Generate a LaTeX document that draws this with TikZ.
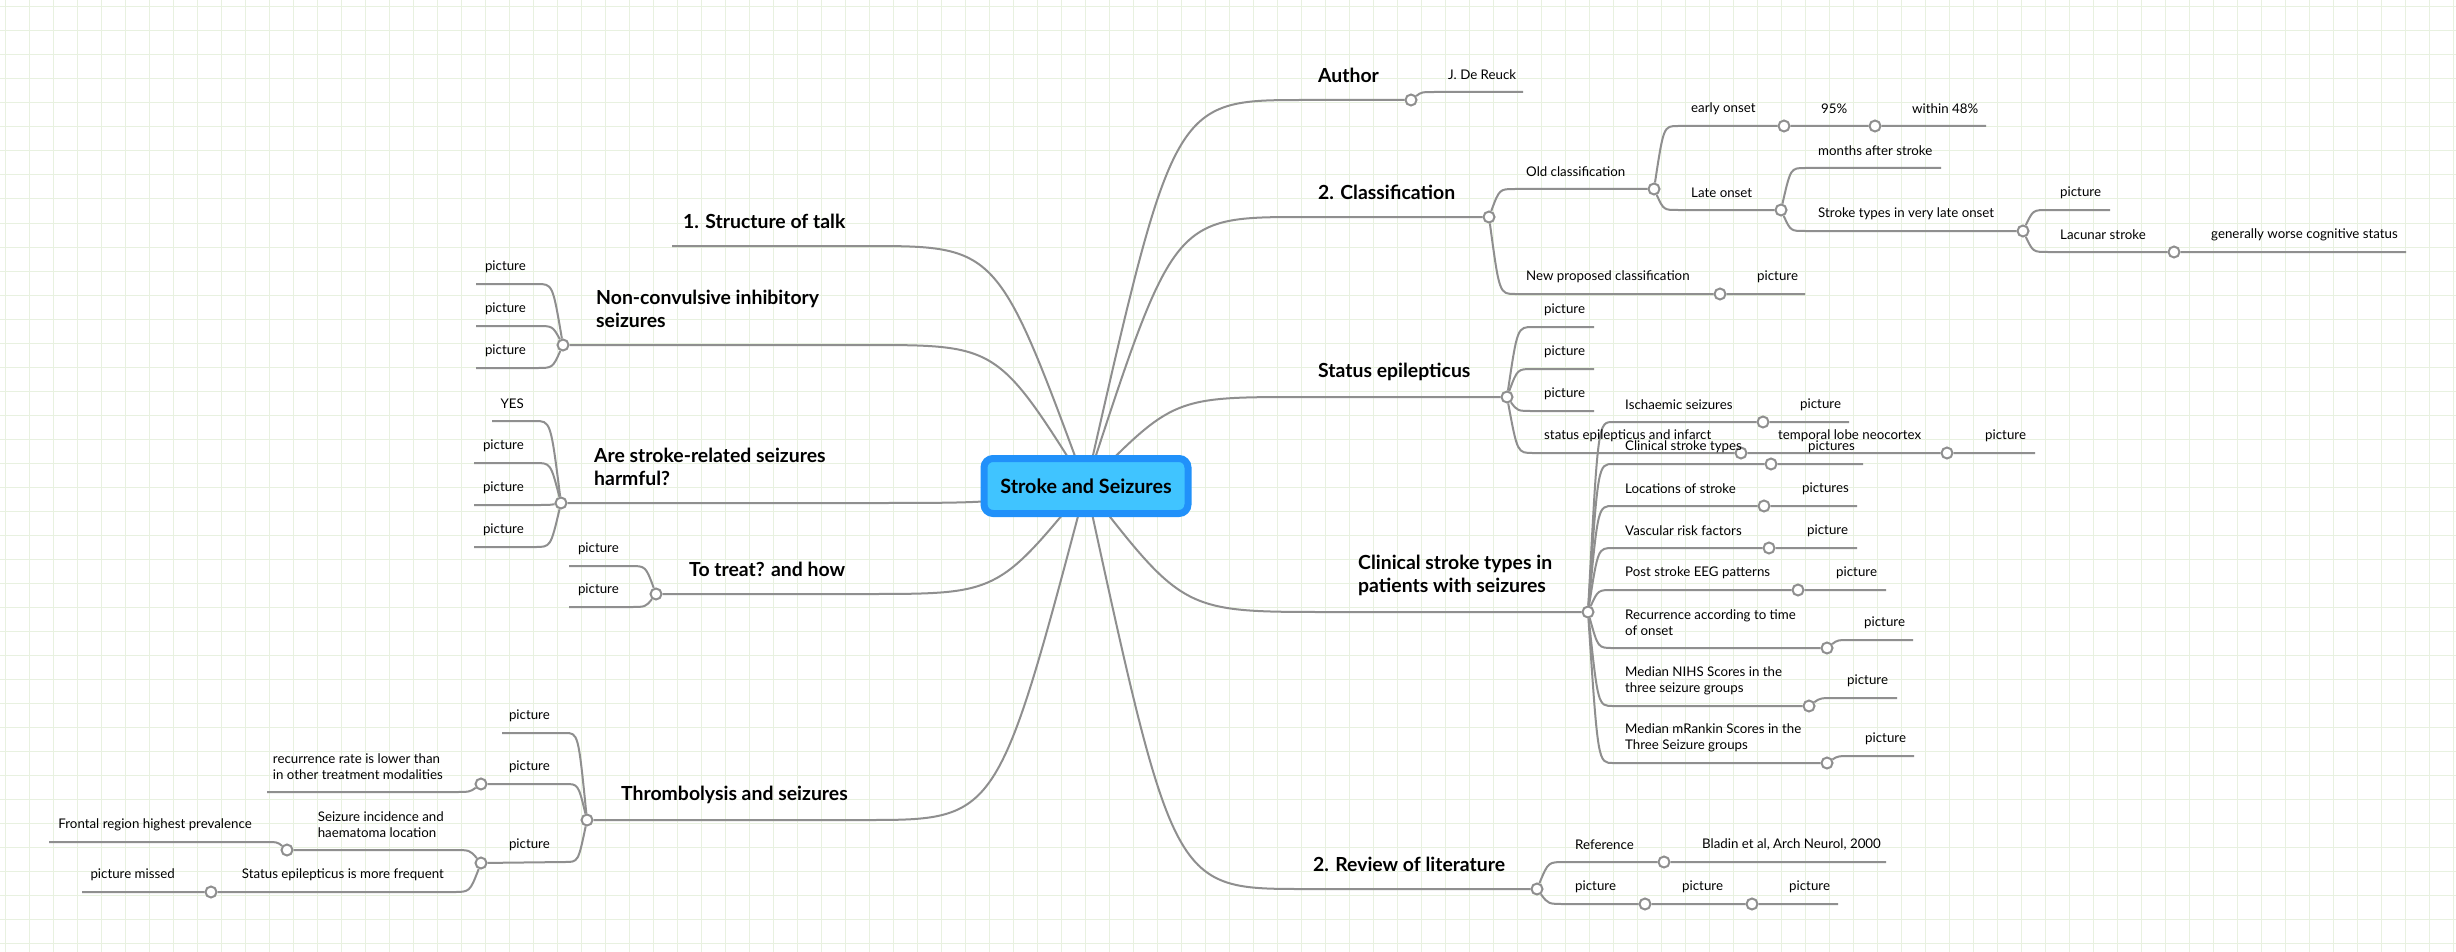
\documentclass[tikz,border=0pt]{standalone}
\usepackage{fontspec}
\setmainfont{Lato}
\usetikzlibrary{calc}
\pgfdeclarelayer{bg}
\pgfsetlayers{bg,main}
\definecolor{linegray}{RGB}{143,143,143}
\definecolor{gridgreen}{RGB}{232,241,224}
\definecolor{rootblue}{RGB}{33,145,250}
\definecolor{rootfill}{RGB}{64,196,255}
\tikzstyle{every picture}=[x=1pt,y=-1pt]
\tikzstyle{gridline}=[draw=gridgreen,line width=1pt]
\tikzstyle{link}=[draw=linegray,line width=2pt]
\tikzstyle{knob}=[circle,draw=linegray,fill=white,line width=2pt,inner sep=0pt,minimum size=11pt]
\tikzstyle{lbl}=[inner sep=0pt,font=\fontsize{13.3}{16}\selectfont,align=left]
\tikzstyle{topic}=[inner sep=0pt,font=\fontsize{19.4}{23}\selectfont\bfseries,align=left]
\tikzstyle{centerbox}=[rounded corners=9pt,draw=rootblue,fill=rootfill,line width=7pt,
  minimum width=204pt,minimum height=55pt,font=\fontsize{19.7}{22}\selectfont\bfseries]
\tikzstyle{curvy}=[to path={let \p1=(\tikztostart), \p2=(\tikztotarget) in
  .. controls ({\x1+0.4*(\x2-\x1)},\y2) .. (\tikztotarget)}]

\begin{document}
\begin{tikzpicture}
\useasboundingbox (0,0) rectangle (2456,952);
\coordinate (c0) at (1086,486);

% right side: Author and Classification
\node[topic,anchor=west] (au-t) at (1318,75) {Author};
\coordinate (au-e) at (1305,100);
\node[knob] (au) at (1411,100) {};
\coordinate (jdr-s) at (1437,92); \coordinate (jdr-e) at (1523,92);
\node[lbl,anchor=west] (jdr-t) at (1448,74.5) {J. De Reuck};

\node[topic,anchor=west] (cls-t) at (1318,192) {2. Classification};
\coordinate (cls-e) at (1305,217);
\node[knob] (cls) at (1489,217) {};
\coordinate (old-s) at (1515,189);
\node[knob] (old) at (1654,189) {};
\node[lbl,anchor=west] (old-t) at (1526,171.5) {Old classification};
\coordinate (ear-s) at (1678,126);
\node[knob] (ear) at (1784,126) {};
\node[lbl,anchor=west] (ear-t) at (1691,108.5) {early onset};
\node[knob] (p95) at (1875,126) {};
\node[lbl,anchor=west] (p95-t) at (1821,108.5) {95\%};
\coordinate (w48-e) at (1986,126);
\node[lbl,anchor=west] (w48-t) at (1912,108.5) {within 48\%};
\coordinate (lat-s) at (1678,210);
\node[knob] (lat) at (1781,210) {};
\node[lbl,anchor=west] (lat-t) at (1691,192.5) {Late onset};
\coordinate (mas-s) at (1805,168); \coordinate (mas-e) at (1941,168);
\node[lbl,anchor=west] (mas-t) at (1818,150.5) {months after stroke};
\coordinate (vlo-s) at (1805,231);
\node[knob] (vlo) at (2023,231) {};
\node[lbl,anchor=west] (vlo-t) at (1818,213.5) {Stroke types in very late onset};
\coordinate (vpc-s) at (2048,210); \coordinate (vpc-e) at (2110,210);
\node[lbl,anchor=west] (vpc-t) at (2060,192.5) {picture};
\coordinate (lac-s) at (2048,252);
\node[knob] (lac) at (2174,252) {};
\node[lbl,anchor=west] (lac-t) at (2060,234.5) {Lacunar stroke};
\coordinate (gwc-e) at (2406,252);
\node[lbl,anchor=west] (gwc-t) at (2211,234.5) {generally worse cognitive status};
\coordinate (new-s) at (1515,294);
\node[knob] (new) at (1720,294) {};
\node[lbl,anchor=west] (new-t) at (1526,276.5) {New proposed classification};
\coordinate (npc-e) at (1805,294);
\node[lbl,anchor=west] (npc-t) at (1757,276.5) {picture};

% Status epilepticus
\node[topic,anchor=west] (ste-t) at (1318,372) {Status epilepticus};
\coordinate (ste-e) at (1305,397);
\node[knob] (ste) at (1507,397) {};
\coordinate (sp1-s) at (1533,327); \coordinate (sp1-e) at (1594,327);
\coordinate (sp2-s) at (1533,369); \coordinate (sp2-e) at (1594,369);
\coordinate (sp3-s) at (1533,411); \coordinate (sp3-e) at (1594,411);
\node[lbl,anchor=west] (sp1-t) at (1544,309.5) {picture};
\node[lbl,anchor=west] (sp2-t) at (1544,351.5) {picture};
\node[lbl,anchor=west] (sp3-t) at (1544,393.5) {picture};
\coordinate (sei-s) at (1533,453);
\node[knob] (sei) at (1741,453) {};
\node[lbl,anchor=west] (sei-t) at (1544,435.5) {status epilepticus and infarct};
\node[knob] (tln) at (1947,453) {};
\node[lbl,anchor=west] (tln-t) at (1778,435.5) {temporal lobe neocortex};
\coordinate (tlp-e) at (2035,453);
\node[lbl,anchor=west] (tlp-t) at (1985,435.5) {picture};

% Clinical stroke types
\node[topic,anchor=west] (cst-t) at (1358,575.5) {Clinical stroke types in\\patients with seizures};
\coordinate (cst-e) at (1330,612);
\node[knob] (cst) at (1588,612) {};
\coordinate (c1-s) at (1613,422); \node[knob] (c1) at (1763,422) {};
\coordinate (c2-s) at (1613,464); \node[knob] (c2) at (1771,464) {};
\coordinate (c3-s) at (1613,506); \node[knob] (c3) at (1764,506) {};
\coordinate (c4-s) at (1613,548); \node[knob] (c4) at (1769,548) {};
\coordinate (c5-s) at (1613,590); \node[knob] (c5) at (1798,590) {};
\coordinate (c6-s) at (1613,648); \node[knob] (c6) at (1827,648) {};
\coordinate (c7-s) at (1613,706); \node[knob] (c7) at (1809,706) {};
\coordinate (c8-s) at (1613,763); \node[knob] (c8) at (1827,763) {};
\node[lbl,anchor=west] (c1-t) at (1625,404.5) {Ischaemic seizures};
\node[lbl,anchor=west] (c2-t) at (1625,446.5) {Clinical stroke types};
\node[lbl,anchor=west] (c3-t) at (1625,488.5) {Locations of stroke};
\node[lbl,anchor=west] (c4-t) at (1625,530.5) {Vascular risk factors};
\node[lbl,anchor=west] (c5-t) at (1625,572.5) {Post stroke EEG patterns};
\node[lbl,anchor=west] (c6-t) at (1625,622.5) {Recurrence according to time\\of onset};
\node[lbl,anchor=west] (c7-t) at (1625,680.5) {Median NIHS Scores in the\\three seizure groups};
\node[lbl,anchor=west] (c8-t) at (1625,737.5) {Median mRankin Scores in the\\Three Seizure groups};
\coordinate (c1p-e) at (1849,422); \node[lbl,anchor=west] (c1p-t) at (1800,404.5) {picture};
\coordinate (c2p-e) at (1863,464); \node[lbl,anchor=west] (c2p-t) at (1808,446.5) {pictures};
\coordinate (c3p-e) at (1857,506); \node[lbl,anchor=west] (c3p-t) at (1802,488.5) {pictures};
\coordinate (c4p-e) at (1857,548); \node[lbl,anchor=west] (c4p-t) at (1807,530.5) {picture};
\coordinate (c5p-e) at (1886,590); \node[lbl,anchor=west] (c5p-t) at (1836,572.5) {picture};
\coordinate (c6p-s) at (1853,640); \coordinate (c6p-e) at (1913,640);
\node[lbl,anchor=west] (c6p-t) at (1864,622.5) {picture};
\coordinate (c7p-s) at (1837,698); \coordinate (c7p-e) at (1897,698);
\node[lbl,anchor=west] (c7p-t) at (1847,680.5) {picture};
\coordinate (c8p-s) at (1854,756); \coordinate (c8p-e) at (1914,756);
\node[lbl,anchor=west] (c8p-t) at (1865,738.5) {picture};

% Review of literature
\node[topic,anchor=west] (rev-t) at (1313,864) {2. Review of literature};
\coordinate (rev-e) at (1305,889);
\node[knob] (rev) at (1537,889) {};
\coordinate (ref-s) at (1565,862);
\node[knob] (ref) at (1664,862) {};
\node[lbl,anchor=west] (ref-t) at (1575,844.5) {Reference};
\coordinate (bla-e) at (1886,862);
\node[lbl,anchor=west] (bla-t) at (1702,844.5) {Bladin et al, Arch Neurol, 2000};
\coordinate (rp1-s) at (1565,904);
\node[knob] (rp1) at (1645,904) {};
\node[knob] (rp2) at (1752,904) {};
\coordinate (rp3-e) at (1838,904);
\node[lbl,anchor=west] (rp1-t) at (1575,886.5) {picture};
\node[lbl,anchor=west] (rp2-t) at (1682,886.5) {picture};
\node[lbl,anchor=west] (rp3-t) at (1789,886.5) {picture};

% left side
\node[topic,anchor=west] (sot-t) at (683,221) {1. Structure of talk};
\coordinate (sot-e) at (865,246); \coordinate (sot-l) at (672,246);

\node[topic,anchor=west] (ncs-t) at (596,308.5) {Non-convulsive inhibitory\\seizures};
\coordinate (ncs-e) at (865,345);
\node[knob] (ncs) at (563,345) {};
\coordinate (np1-s) at (537,284); \coordinate (np1-e) at (476,284);
\coordinate (np2-s) at (537,326); \coordinate (np2-e) at (476,326);
\coordinate (np3-s) at (537,368); \coordinate (np3-e) at (476,368);
\node[lbl,anchor=east] (np1-t) at (526,266.5) {picture};
\node[lbl,anchor=east] (np2-t) at (526,308.5) {picture};
\node[lbl,anchor=east] (np3-t) at (526,350.5) {picture};

\node[topic,anchor=west] (hrm-t) at (594,466.5) {Are stroke-related seizures\\harmful?};
\coordinate (hrm-e) at (865,503);
\node[knob] (hrm) at (561,503) {};
\coordinate (yes-s) at (535,421); \coordinate (yes-e) at (492,421);
\coordinate (hp1-s) at (535,463); \coordinate (hp1-e) at (474,463);
\coordinate (hp2-s) at (535,505); \coordinate (hp2-e) at (474,505);
\coordinate (hp3-s) at (535,547); \coordinate (hp3-e) at (474,547);
\node[lbl,anchor=east] (yes-t) at (524,403.5) {YES};
\node[lbl,anchor=east] (hp1-t) at (524,445.5) {picture};
\node[lbl,anchor=east] (hp2-t) at (524,487.5) {picture};
\node[lbl,anchor=east] (hp3-t) at (524,529.5) {picture};

\node[topic,anchor=west] (trt-t) at (689,569) {To treat? and how};
\coordinate (trt-e) at (865,594);
\node[knob] (trt) at (656,594) {};
\coordinate (tp1-s) at (630,566); \coordinate (tp1-e) at (569,566);
\coordinate (tp2-s) at (630,607); \coordinate (tp2-e) at (569,607);
\node[lbl,anchor=east] (tp1-t) at (619,548.5) {picture};
\node[lbl,anchor=east] (tp2-t) at (619,589.5) {picture};

\node[topic,anchor=west] (thr-t) at (621,795) {Thrombolysis and seizures};
\coordinate (thr-e) at (865,820);
\node[knob] (thr) at (587,820) {};
\coordinate (th1-s) at (565,733); \coordinate (th1-e) at (502,733);
\coordinate (th2-s) at (565,784); \node[knob] (th2) at (481,784) {};
\coordinate (th3-s) at (565,862); \node[knob] (th3) at (481,863) {};
\node[lbl,anchor=east] (th1-t) at (550,715.5) {picture};
\node[lbl,anchor=east] (th2-t) at (550,766.5) {picture};
\node[lbl,anchor=east] (th3-t) at (550,844.5) {picture};
\coordinate (rec-s) at (453,792); \coordinate (rec-e) at (267,792);
\node[lbl,anchor=east] (rec-t) at (443,766.5) {recurrence rate is lower than\\in other treatment modalities};
\coordinate (sia-s) at (453,850); \node[knob] (sia) at (287,850) {};
\node[lbl,anchor=east] (sia-t) at (444,824.5) {Seizure incidence and\\haematoma location};
\coordinate (frp-s) at (263,842); \coordinate (frp-e) at (49,842);
\node[lbl,anchor=east] (frp-t) at (252,824.5) {Frontal region highest prevalence};
\coordinate (sem-s) at (453,892); \node[knob] (sem) at (211,892) {};
\node[lbl,anchor=east] (sem-t) at (444,874.5) {Status epilepticus is more frequent};
\coordinate (pms-e) at (82,892);
\node[lbl,anchor=east] (pms-t) at (175,874.5) {picture missed};

\node[centerbox] (root) at (c0) {Stroke and Seizures};

% Now draw the grid and the edges underneath
\begin{pgfonlayer}{bg}
\fill[white] (0,0) rectangle (2456,952);
\foreach \gx in {5,29,...,2453} \draw[gridline] (\gx,0) -- (\gx,952);
\foreach \gy in {7,31,...,943} \draw[gridline] (0,\gy) -- (2456,\gy);

\draw[link] (c0) to[curvy] (au-e) -- (au);
\draw[link] (au) to[curvy] (jdr-s) -- (jdr-e);
\draw[link] (c0) to[curvy] (cls-e) -- (cls);
\draw[link] (cls) to[curvy] (old-s) -- (old);
\draw[link] (old) to[curvy] (ear-s) -- (ear) -- (p95) -- (w48-e);
\draw[link] (old) to[curvy] (lat-s) -- (lat);
\draw[link] (lat) to[curvy] (mas-s) -- (mas-e);
\draw[link] (lat) to[curvy] (vlo-s) -- (vlo);
\draw[link] (vlo) to[curvy] (vpc-s) -- (vpc-e);
\draw[link] (vlo) to[curvy] (lac-s) -- (lac) -- (gwc-e);
\draw[link] (cls) to[curvy] (new-s) -- (new) -- (npc-e);

\draw[link] (c0) to[curvy] (ste-e) -- (ste);
\draw[link] (ste) to[curvy] (sp1-s) -- (sp1-e);
\draw[link] (ste) to[curvy] (sp2-s) -- (sp2-e);
\draw[link] (ste) to[curvy] (sp3-s) -- (sp3-e);
\draw[link] (ste) to[curvy] (sei-s) -- (sei) -- (tln) -- (tlp-e);

\draw[link] (c0) to[curvy] (cst-e) -- (cst);
\draw[link] (cst) to[curvy] (c1-s) -- (c1) -- (c1p-e);
\draw[link] (cst) to[curvy] (c2-s) -- (c2) -- (c2p-e);
\draw[link] (cst) to[curvy] (c3-s) -- (c3) -- (c3p-e);
\draw[link] (cst) to[curvy] (c4-s) -- (c4) -- (c4p-e);
\draw[link] (cst) to[curvy] (c5-s) -- (c5) -- (c5p-e);
\draw[link] (cst) to[curvy] (c6-s) -- (c6);
\draw[link] (cst) to[curvy] (c7-s) -- (c7);
\draw[link] (cst) to[curvy] (c8-s) -- (c8);
\draw[link] (c6) to[curvy] (c6p-s) -- (c6p-e);
\draw[link] (c7) to[curvy] (c7p-s) -- (c7p-e);
\draw[link] (c8) to[curvy] (c8p-s) -- (c8p-e);

\draw[link] (c0) to[curvy] (rev-e) -- (rev);
\draw[link] (rev) to[curvy] (ref-s) -- (ref) -- (bla-e);
\draw[link] (rev) to[curvy] (rp1-s) -- (rp1) -- (rp2) -- (rp3-e);

\draw[link] (c0) to[curvy] (sot-e) -- (sot-l);
\draw[link] (c0) to[curvy] (ncs-e) -- (ncs);
\draw[link] (ncs) to[curvy] (np1-s) -- (np1-e);
\draw[link] (ncs) to[curvy] (np2-s) -- (np2-e);
\draw[link] (ncs) to[curvy] (np3-s) -- (np3-e);
\draw[link] (c0) to[curvy] (hrm-e) -- (hrm);
\draw[link] (hrm) to[curvy] (yes-s) -- (yes-e);
\draw[link] (hrm) to[curvy] (hp1-s) -- (hp1-e);
\draw[link] (hrm) to[curvy] (hp2-s) -- (hp2-e);
\draw[link] (hrm) to[curvy] (hp3-s) -- (hp3-e);
\draw[link] (c0) to[curvy] (trt-e) -- (trt);
\draw[link] (trt) to[curvy] (tp1-s) -- (tp1-e);
\draw[link] (trt) to[curvy] (tp2-s) -- (tp2-e);
\draw[link] (c0) to[curvy] (thr-e) -- (thr);
\draw[link] (thr) to[curvy] (th1-s) -- (th1-e);
\draw[link] (thr) to[curvy] (th2-s) -- (th2);
\draw[link] (thr) to[curvy] (th3-s) -- (th3);
\draw[link] (th2) to[curvy] (rec-s) -- (rec-e);
\draw[link] (th3) to[curvy] (sia-s) -- (sia);
\draw[link] (sia) to[curvy] (frp-s) -- (frp-e);
\draw[link] (th3) to[curvy] (sem-s) -- (sem) -- (pms-e);
\end{pgfonlayer}
\end{tikzpicture}
\end{document}
